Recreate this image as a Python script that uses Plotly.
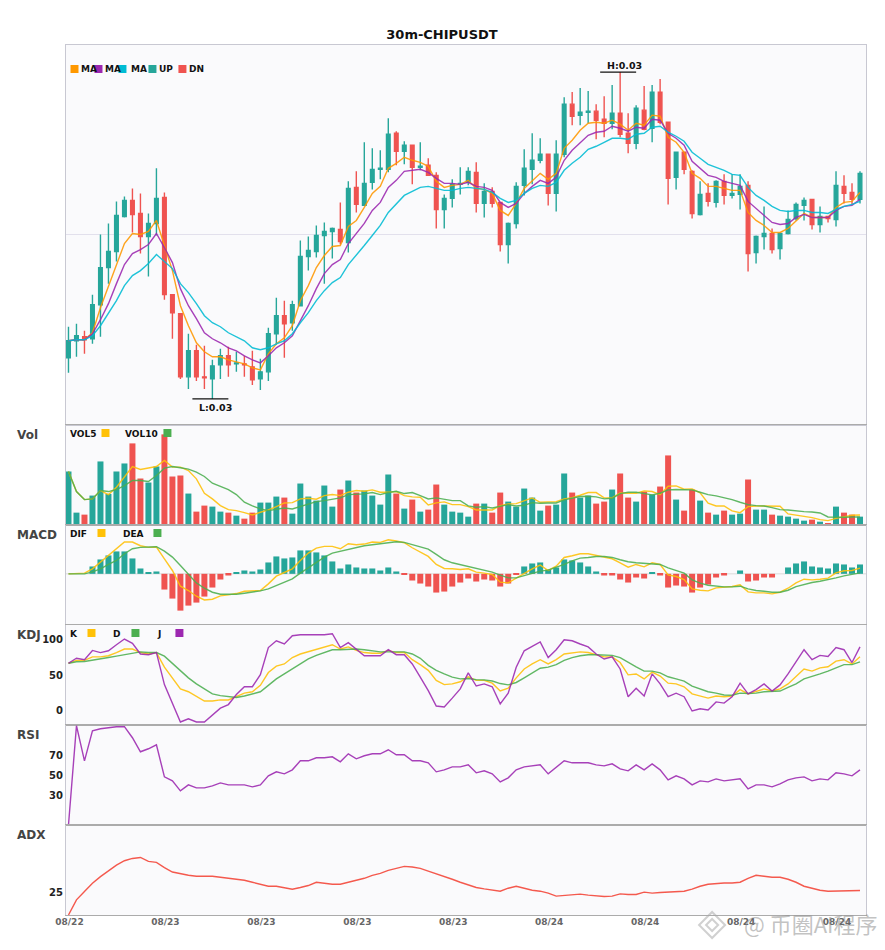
import plotly.graph_objects as go
from plotly.subplots import make_subplots

# Values. Prices are in the chart's own units, the axis has no labels.
opens = [67, 84, 88, 86, 120, 157, 173, 208, 224, 211, 188, 201, 227, 130, 111, 48, 74, 48, 46, 60,
         69, 61, 61, 58, 46, 53, 91, 109, 102, 119, 168, 173, 189, 193, 195, 182, 237, 219, 242, 255,
         255, 291, 273, 279, 257, 259, 249, 215, 226, 240, 242, 252, 221, 233, 222, 180, 201, 239, 255, 264,
         270, 231, 270, 320, 309, 312, 313, 305, 301, 311, 291, 281, 314, 296, 332, 302, 247, 272, 253, 210,
         231, 222, 243, 229, 230, 239, 172, 188, 191, 176, 191, 206, 219, 225, 200, 208, 205, 238, 232, 225]
closes = [84, 89, 85, 120, 157, 173, 209, 224, 210, 188, 201, 226, 130, 112, 48, 74, 48, 47, 59, 69,
          60, 62, 60, 45, 53, 91, 109, 101, 120, 168, 174, 189, 193, 196, 183, 236, 220, 241, 255, 256,
          290, 273, 279, 257, 258, 249, 215, 226, 240, 241, 253, 221, 233, 221, 180, 201, 238, 256, 264, 270,
          231, 270, 320, 308, 312, 313, 304, 301, 311, 290, 281, 316, 295, 332, 302, 246, 272, 255, 211, 230,
          223, 243, 229, 231, 238, 171, 188, 191, 175, 191, 205, 220, 224, 200, 208, 206, 239, 231, 225, 251]
highs = [98, 101, 94, 130, 190, 201, 223, 228, 236, 231, 211, 256, 232, 130, 111, 91, 80, 79, 65, 76,
         78, 73, 69, 74, 66, 97, 127, 124, 124, 184, 188, 199, 202, 197, 222, 243, 253, 282, 276, 274,
         306, 293, 283, 279, 282, 266, 252, 230, 245, 257, 257, 262, 241, 237, 222, 202, 242, 275, 291, 286,
         270, 284, 327, 332, 336, 333, 320, 328, 339, 352, 311, 319, 338, 339, 345, 302, 272, 272, 254, 243,
         241, 244, 250, 250, 250, 243, 189, 218, 196, 192, 214, 222, 227, 225, 218, 208, 253, 249, 241, 253]
lows = [52, 68, 71, 81, 88, 141, 163, 207, 192, 171, 148, 189, 125, 86, 46, 36, 44, 36, 26, 46,
        48, 53, 48, 40, 35, 44, 80, 67, 94, 119, 154, 167, 141, 166, 180, 172, 212, 219, 235, 245,
        252, 259, 260, 240, 254, 249, 196, 196, 217, 230, 239, 212, 207, 217, 173, 161, 196, 229, 240, 261,
        219, 213, 267, 299, 299, 301, 285, 287, 295, 287, 271, 275, 294, 282, 300, 220, 235, 250, 206, 209,
        218, 217, 220, 226, 215, 153, 161, 175, 171, 165, 190, 204, 204, 195, 192, 202, 198, 221, 220, 221]

ma5 = [84, 85, 85, 92, 117, 139, 161, 181, 191, 190, 193, 204, 179, 154, 119, 99, 82, 73, 68, 68,
       65, 63, 61, 57, 55, 71, 81, 87, 99, 124, 139, 157, 169, 178, 179, 198, 204, 217, 231, 238,
       256, 261, 267, 264, 262, 258, 243, 237, 239, 240, 244, 236, 235, 231, 214, 209, 221, 236, 243, 251,
       245, 251, 276, 284, 294, 301, 302, 301, 304, 300, 294, 301, 299, 309, 308, 287, 282, 272, 251, 246,
       238, 238, 236, 234, 234, 212, 204, 199, 192, 192, 196, 204, 211, 207, 207, 207, 217, 222, 223, 232]
ma10 = [84, 85, 85, 91, 105, 121, 141, 160, 171, 175, 180, 191, 177, 162, 136, 119, 106, 92, 86, 82,
        77, 74, 69, 65, 62, 69, 77, 82, 89, 104, 119, 136, 151, 160, 165, 181, 191, 201, 214, 222,
        237, 244, 253, 254, 255, 252, 246, 241, 241, 240, 242, 238, 237, 234, 222, 217, 221, 231, 238, 244,
        241, 247, 264, 274, 281, 289, 292, 293, 298, 296, 293, 297, 296, 305, 304, 291, 286, 279, 263, 256,
        249, 247, 243, 241, 239, 223, 216, 209, 202, 200, 201, 207, 210, 207, 207, 207, 214, 218, 219, 225]
ma20 = [84, 85, 85, 89, 99, 111, 124, 139, 149, 154, 161, 170, 163, 156, 141, 132, 121, 109, 102, 98,
        92, 88, 84, 77, 75, 77, 81, 84, 91, 102, 112, 124, 134, 142, 147, 160, 169, 179, 189, 199,
        212, 221, 229, 233, 237, 238, 236, 234, 234, 236, 237, 236, 235, 232, 226, 222, 224, 231, 236, 239,
        238, 242, 254, 261, 267, 275, 278, 282, 286, 286, 285, 290, 291, 297, 298, 292, 288, 283, 272, 266,
        260, 257, 254, 250, 249, 237, 229, 224, 218, 214, 213, 214, 214, 212, 212, 211, 215, 218, 220, 223]

volume = [160, 37, 31, 88, 190, 93, 160, 184, 244, 139, 127, 175, 271, 145, 148, 94, 40, 58, 55, 40,
          37, 28, 19, 37, 67, 67, 85, 82, 34, 124, 85, 73, 118, 55, 106, 133, 97, 103, 88, 61,
          151, 94, 49, 76, 40, 46, 121, 61, 40, 37, 25, 64, 64, 37, 97, 70, 55, 109, 82, 43,
          58, 61, 154, 97, 82, 88, 64, 70, 106, 154, 82, 70, 100, 91, 115, 208, 76, 43, 106, 73,
          37, 31, 43, 31, 34, 136, 46, 46, 31, 28, 25, 19, 13, 16, 10, 4, 55, 37, 31, 25]
vol5 = [160, 100, 76, 78, 103, 91, 113, 143, 175, 166, 171, 175, 193, 173, 173, 163, 138, 95, 78, 58,
        46, 43, 37, 30, 38, 45, 55, 66, 67, 78, 80, 77, 88, 91, 88, 98, 103, 101, 105, 98,
        98, 100, 88, 84, 83, 60, 66, 69, 61, 61, 55, 45, 45, 45, 58, 63, 64, 73, 81, 68,
        68, 70, 78, 82, 89, 97, 97, 81, 81, 96, 95, 95, 102, 100, 91, 116, 117, 107, 108, 96,
        65, 57, 57, 42, 37, 55, 57, 56, 56, 56, 33, 30, 25, 22, 16, 13, 20, 25, 29, 30]
vol10 = [160, 100, 76, 78, 103, 100, 106, 118, 133, 133, 130, 148, 170, 175, 171, 167, 158, 145, 125, 116,
         106, 91, 68, 57, 48, 43, 48, 51, 48, 55, 63, 70, 73, 77, 81, 91, 91, 93, 97, 91,
         97, 101, 94, 97, 88, 78, 81, 78, 73, 73, 57, 53, 55, 51, 56, 61, 57, 59, 67, 65,
         66, 66, 75, 81, 85, 86, 84, 78, 80, 94, 98, 98, 93, 90, 95, 105, 106, 105, 105, 98,
         91, 87, 82, 76, 68, 61, 58, 57, 52, 46, 45, 42, 40, 39, 36, 24, 23, 23, 24, 24]

macd_hist = [0, 0, 0, 22, 43, 55, 67, 67, 46, 16, 4, 7, -47, -74, -110, -95, -86, -68, -41, -17,
             -5, 4, 10, 7, 13, 34, 52, 46, 49, 70, 70, 64, 55, 37, 16, 28, 19, 16, 16, 10,
             19, 7, -2, -20, -29, -38, -56, -53, -38, -26, -14, -23, -17, -20, -38, -29, -2, 22, 31, 34,
             13, 19, 43, 40, 34, 22, 7, -5, -5, -17, -26, -11, -14, 4, -5, -41, -35, -38, -56, -41,
             -32, -11, -5, 0, 10, -23, -20, -11, -11, 0, 19, 31, 37, 22, 19, 16, 31, 28, 19, 28]
dif = [0, 2, 2, 15, 35, 55, 75, 95, 95, 84, 79, 80, 45, 10, -37, -50, -67, -78, -76, -66,
       -63, -59, -52, -52, -50, -30, -7, 4, 15, 40, 62, 77, 82, 82, 75, 90, 87, 89, 95, 94,
       102, 98, 93, 78, 65, 52, 28, 16, 15, 13, 15, 5, 2, -2, -25, -27, -13, 2, 15, 26,
       10, 23, 49, 54, 60, 60, 55, 48, 45, 33, 20, 28, 21, 33, 28, -3, -8, -17, -45, -49,
       -51, -42, -41, -38, -33, -54, -57, -57, -60, -55, -43, -27, -16, -18, -16, -13, 3, 9, 10, 17]
dea = [0, 0, 0, 6, 15, 28, 40, 60, 75, 79, 80, 81, 68, 50, 25, -2, -27, -43, -55, -61,
       -61, -61, -58, -55, -51, -45, -35, -25, -15, 2, 18, 35, 50, 62, 68, 74, 78, 84, 87, 90,
       93, 96, 94, 88, 82, 74, 58, 42, 33, 27, 23, 17, 11, 5, -4, -12, -12, -6, 0, 8,
       11, 19, 28, 39, 47, 49, 52, 52, 49, 42, 36, 33, 31, 30, 28, 18, 9, 2, -18, -28,
       -34, -37, -39, -39, -37, -45, -50, -52, -55, -55, -49, -38, -31, -26, -22, -18, -12, -6, -1, 3]

kdj_k = [67, 71, 71, 76, 76, 77.5, 82, 87, 87, 82, 80, 82, 61.5, 46.5, 31, 27, 20, 14, 14, 15.5,
         15.5, 20, 25, 27, 36, 54, 63, 66, 75, 80, 83, 87, 90, 93, 87, 90, 85, 82, 81, 81,
         85, 82, 82, 72, 65, 57, 43, 37, 38, 41, 48, 43, 43, 39, 28, 32, 46.5, 59, 66, 72,
         66, 72, 80, 82, 83, 82, 79, 76, 76, 68, 50.7, 52, 45, 54.5, 49, 39, 38, 34, 24, 21,
         18, 21, 20, 21, 30, 24, 27, 31, 28, 31, 38, 49, 59, 56, 60.5, 62, 70, 72, 66, 76]
kdj_d = [67, 69, 69.5, 71, 73, 75, 77, 79, 82, 83, 82, 82, 77, 67, 56, 46.5, 38, 31, 24, 21.6,
         20, 19, 21, 24, 27, 36, 45, 52, 59, 66, 73, 78, 82, 86, 86, 87, 87, 86, 84.5, 83,
         83, 83, 83, 80, 74, 64, 57, 52, 47.5, 45, 45.5, 44, 43.7, 42, 38.5, 36.6, 40, 46.5, 53, 60,
         61.5, 65, 71, 75, 77.5, 79, 79, 79, 78, 75, 68, 62, 56, 56, 53.5, 48, 45, 42, 35, 31,
         27, 25, 22.5, 22, 25, 24.5, 25, 27, 27, 28, 33, 38, 45, 48, 52, 56, 60.5, 65, 65, 69]
kdj_j = [67, 74, 72, 85, 82, 84.5, 93, 101, 95, 80, 79, 82, 37, 10, -15.5, -11, -15.5, -15.5, -6, 4,
         9, 23, 34, 34, 51, 89, 98.6, 94, 105.6, 107, 107, 107, 107, 108.5, 89, 96, 87, 77.5, 77.5, 77.5,
         86, 79, 79, 66, 47.5, 28.6, 7, 5.6, 18, 31, 53.5, 35, 38, 34, 10, 25, 61.5, 84.5, 90.6, 97,
         75, 86, 100, 98.6, 94, 90, 80, 73, 76, 59, 20, 32, 21, 52, 38, 20, 25, 20, 0, 3,
         1.4, 12.7, 11, 20, 39, 24, 30, 38, 28, 36.6, 52, 69.5, 86, 72, 78, 76.5, 89, 86, 68, 90]

rsi = [1, 100, 65, 95, 97, 98, 99, 99, 88, 74, 77, 81, 49, 45, 35, 41, 38, 38, 40, 43,
       41, 41, 41, 39, 41, 50, 54, 52, 56, 65, 65, 68, 68, 69, 64, 72, 67, 70, 72, 72,
       76, 71, 71, 65, 65, 63, 54, 56, 59, 59, 61, 53, 55, 52, 44, 48, 56, 59, 60, 61,
       52, 59, 65, 63, 63, 63, 61, 60, 62, 57, 55, 61, 56, 62, 56, 46, 50, 47, 41, 45,
       44, 47, 45, 46, 47, 37, 41, 41, 39, 42, 46, 48, 49, 45, 47, 46, 53, 52, 50, 56]

adx = [2, 17.3, 25.7, 34, 40.7, 46.7, 52.3, 56.7, 59, 60, 56, 55, 49.7, 45.3, 43.3, 42, 41, 41, 41, 40,
       39, 38, 37, 35, 33, 31, 31, 29.3, 28, 29.7, 31.7, 35, 34, 33, 33, 35, 37, 39, 42, 44,
       47, 49, 51, 50.3, 49, 46.3, 43.7, 41, 38, 35, 32, 29.7, 28.3, 27, 26, 29, 31, 29, 27, 26,
       24, 21, 21.7, 22, 23, 22, 21, 20.7, 21, 23.3, 22.7, 22.7, 25, 24, 24.7, 25, 26, 26, 28, 31,
       33, 34, 34.3, 34.3, 35, 39, 42, 41, 40, 40, 38, 35, 31, 29, 27, 26, 26, 26, 26, 26.7]

tick_pos = [0, 12, 24, 36, 48, 60, 72, 84, 96]
tick_labels = ["08/22", "08/23", "08/23", "08/23", "08/23", "08/24", "08/24", "08/24", "08/24"]
price_mid = 190
kdj_levels = [100, 50, 0]
rsi_levels = [70, 50, 30]
adx_level = 25

for series in [opens, closes, highs, lows, ma5, ma10, ma20, volume, vol5, vol10, macd_hist, dif, dea,
               kdj_k, kdj_d, kdj_j, rsi, adx]:
    assert len(series) == 100

UP = "#26A69A"
DN = "#EF5350"
YELLOW = "#FFC107"
GREEN = "#4CAF50"
PURPLE = "#9C27B0"
FONT = "DejaVu Sans"
W, H = 885, 950
PAGE_MARGIN = 8  # the page's body keeps its default margin
LEFT, RIGHT, TOP, BOTTOM = 65.5, 866, 45, 915
xs = list(range(len(opens)))


def px_x(x):
    return (x - LEFT) / (RIGHT - LEFT)


def px_y(y):
    return (BOTTOM - y) / (BOTTOM - TOP)


def add_line(fig, y, color, row, width=1.4):
    fig.add_trace(go.Scatter(x=xs, y=y, mode="lines", line=dict(color=color, width=width), opacity=0.88,
                             hoverinfo="skip"), row=row, col=1)


def add_label(fig, x, y, text, size=9.5, color="#111111"):
    # annotations carry about 2.5px of padding on the left
    fig.add_annotation(xref="paper", yref="paper", x=px_x(x - 2.5), y=px_y(y), text=text, showarrow=False,
                       xanchor="left", yanchor="middle",
                       font=dict(family=FONT, size=size, color=color, weight=700))


def add_square(fig, x, y, color):
    fig.add_shape(type="rect", xref="paper", yref="paper", x0=px_x(x), x1=px_x(x + 8),
                  y0=px_y(y + 4), y1=px_y(y - 4), fillcolor=color, line_width=0, layer="above")


fig = make_subplots(rows=6, cols=1, shared_xaxes=True, vertical_spacing=0,
                    row_heights=[380, 100, 100, 100, 100, 90])

# price pane
fig.add_trace(go.Candlestick(x=xs, open=opens, high=highs, low=lows, close=closes,
                             increasing=dict(line=dict(color=UP, width=1.4), fillcolor=UP),
                             decreasing=dict(line=dict(color=DN, width=1.4), fillcolor=DN),
                             whiskerwidth=0, hoverinfo="skip"), row=1, col=1)
add_line(fig, ma5, "#FF9800", 1)
add_line(fig, ma10, PURPLE, 1)
add_line(fig, ma20, "#00BCD4", 1)
fig.add_hline(y=price_mid, line=dict(color="#E2E0EC", width=1), layer="below", row=1, col=1)

# high / low markers
high_i = highs.index(max(highs))
low_i = lows.index(min(lows))
fig.add_shape(type="line", x0=high_i - 2.5, x1=high_i + 2, y0=highs[high_i], y1=highs[high_i],
              line=dict(color="#111111", width=1.2), row=1, col=1)
fig.add_shape(type="line", x0=low_i - 2.5, x1=low_i + 2, y0=lows[low_i], y1=lows[low_i],
              line=dict(color="#111111", width=1.2), row=1, col=1)
fig.add_annotation(x=high_i, y=highs[high_i], text="H:0.03", showarrow=False, yshift=7, xshift=4.5,
                   font=dict(family=FONT, size=9.5, color="#111111", weight=700), xref="x", yref="y")
fig.add_annotation(x=low_i, y=lows[low_i], text="L:0.03", showarrow=False, yshift=-9, xshift=3.5,
                   font=dict(family=FONT, size=9.5, color="#111111", weight=700), xref="x", yref="y")

# volume pane
bar_colors = [UP if c >= o else DN for o, c in zip(opens, closes)]
fig.add_trace(go.Bar(x=xs, y=volume, marker=dict(color=bar_colors, line_width=0), width=0.75,
                     hoverinfo="skip"), row=2, col=1)
add_line(fig, vol5, YELLOW, 2)
add_line(fig, vol10, GREEN, 2)

# macd pane
hist_colors = [UP if v >= 0 else DN for v in macd_hist]
fig.add_trace(go.Bar(x=xs, y=macd_hist, marker=dict(color=hist_colors, line_width=0), width=0.75,
                     hoverinfo="skip"), row=3, col=1)
fig.add_hline(y=0, line=dict(color="#DADADA", width=1), layer="below", row=3, col=1)
add_line(fig, dif, YELLOW, 3)
add_line(fig, dea, GREEN, 3)

# kdj pane
level_colors = ["#A9DAD8", "#D2D2D2", "#FFBBBB"]
for level, color in zip(kdj_levels, level_colors):
    fig.add_hline(y=level, line=dict(color=color, width=1), layer="below", row=4, col=1)
add_line(fig, kdj_k, YELLOW, 4)
add_line(fig, kdj_d, GREEN, 4)
add_line(fig, kdj_j, PURPLE, 4)

# rsi pane
for level, color in zip(rsi_levels, level_colors):
    fig.add_hline(y=level, line=dict(color=color, width=1), layer="below", row=5, col=1)
add_line(fig, rsi, PURPLE, 5)

# adx pane
fig.add_hline(y=adx_level, line=dict(color="#E2B4E8", width=1), layer="below", row=6, col=1)
add_line(fig, adx, "#F44336", 6)

fig.update_layout(width=W - PAGE_MARGIN, height=H - PAGE_MARGIN, showlegend=False, paper_bgcolor="white",
                  plot_bgcolor="#FAFAFC",
                  margin=dict(l=LEFT - PAGE_MARGIN, r=W - RIGHT, t=TOP - PAGE_MARGIN, b=H - BOTTOM),
                  boxgap=0.35, boxmode="overlay", barmode="overlay", font=dict(family=FONT),
                  title=dict(text="30m-CHIPUSDT", x=(442 - PAGE_MARGIN) / (W - PAGE_MARGIN), xanchor="center",
                             y=1 - (34 - PAGE_MARGIN) / (H - PAGE_MARGIN), yanchor="middle",
                             font=dict(family=FONT, size=13, color="#111111", weight=700)))
fig.update_xaxes(range=[-0.31, 99.75], showgrid=False, zeroline=False, showticklabels=False,
                 rangeslider_visible=False, showline=True, mirror=True, linecolor="#ABABAB", linewidth=1,
                 tickvals=tick_pos, ticks="")
fig.update_xaxes(linecolor="#C8C8D2", row=1, col=1)
fig.update_xaxes(showticklabels=True, ticktext=tick_labels, tickvals=tick_pos, ticklabelstandoff=-2,
                 ticklabelshift=1, tickfont=dict(family=FONT, size=9, color="#666666", weight=700), row=6, col=1)
fig.update_yaxes(showgrid=False, zeroline=False, showticklabels=False, showline=True, mirror=True,
                 linecolor="#C8C8D2", linewidth=1, ticks="")
fig.update_yaxes(range=[0, 379], row=1, col=1)
fig.update_yaxes(range=[0, 299], row=2, col=1)
fig.update_yaxes(range=[-153, 146], row=3, col=1)
tick_style = dict(showticklabels=True, tickfont=dict(family=FONT, size=10, color="#222222", weight=700),
                  ticklen=0, ticks="outside", tickcolor="rgba(0,0,0,0)")
fig.update_yaxes(range=[-19.7, 120.7], tickvals=kdj_levels, row=4, col=1, **tick_style)
fig.update_yaxes(range=[1, 100.7], tickvals=rsi_levels, row=5, col=1, **tick_style)
fig.update_yaxes(range=[2, 92.7], tickvals=[adx_level], row=6, col=1, **tick_style)

# pane names
for name, y in [("Vol", 435), ("MACD", 535), ("KDJ", 635), ("RSI", 735), ("ADX", 835)]:
    add_label(fig, 17, y, name, size=12, color="#444444")

# hand made legends, same as the source chart they overlap a bit
for x, text in [(81, "MA"), (105, "MA"), (131, "MA"), (159, "UP"), (189, "DN")]:
    add_label(fig, x, 69, text, size=9)
for x, color in [(70, "#FF9800"), (94, PURPLE), (118, "#00BCD4"), (148, UP), (178, DN)]:
    add_square(fig, x, 69, color)
for x, y, text in [(70, 434, "VOL5"), (125, 434, "VOL10"), (70, 534, "DIF"), (123, 534, "DEA"),
                   (70, 634, "K"), (113, 634, "D"), (157, 634, "J")]:
    add_label(fig, x, y, text, size=9)
for x, y, color in [(101, 433, YELLOW), (163, 433, GREEN), (97, 533, YELLOW), (153, 533, GREEN),
                    (87, 633, YELLOW), (131, 633, GREEN), (175, 633, PURPLE)]:
    add_square(fig, x, y, color)

# watermark
fig.add_annotation(xref="paper", yref="paper", x=px_x(880), y=px_y(923), xanchor="right", yanchor="middle",
                   text="@ 币圈AI程序", showarrow=False,
                   font=dict(family="Noto Sans CJK SC", size=22, color="rgba(135,135,135,0.5)"))
for half in [13, 6]:
    fig.add_shape(type="path", xref="paper", yref="paper", layer="above",
                  path=f"M {px_x(712 - half)} {px_y(925)} L {px_x(712)} {px_y(925 - half)} "
                       f"L {px_x(712 + half)} {px_y(925)} L {px_x(712)} {px_y(925 + half)} Z",
                  line=dict(color="rgba(170,170,170,0.55)", width=2))

fig.write_html("out.html")
